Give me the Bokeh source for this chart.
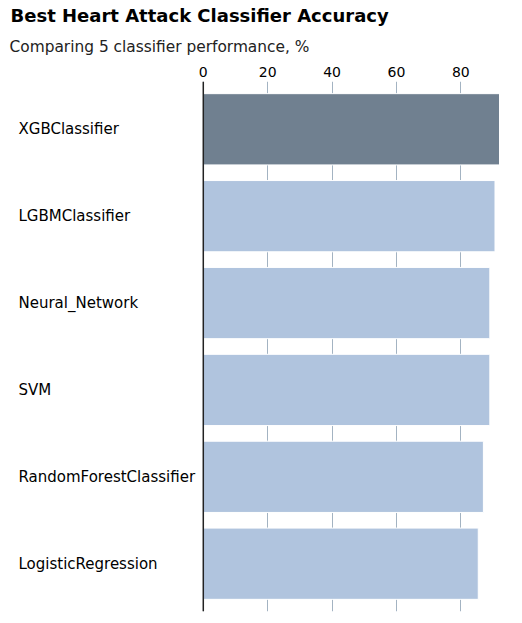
from bokeh.plotting import figure
from bokeh.models import ColumnDataSource, FactorRange, Range1d, Span, Title, FixedTicker
from bokeh.core.properties import value
from bokeh.embed import file_html
from bokeh.resources import INLINE

classifiers = ["XGBClassifier", "LGBMClassifier", "Neural_Network", "SVM",
               "RandomForestClassifier", "LogisticRegression"]
accuracy = [92.0, 90.6, 89.0, 89.0, 87.0, 85.4]
bar_colors = ["#708090", "#B0C4DE", "#B0C4DE", "#B0C4DE", "#B0C4DE", "#B0C4DE"]
tick_values = [0, 20, 40, 60, 80]

FONT = "DejaVu Sans"
LABEL_X = -57.4

src = ColumnDataSource(dict(cls=classifiers, acc=accuracy, color=bar_colors,
                            lx=[LABEL_X] * len(classifiers)))

p = figure(width=499, height=613,
           y_range=FactorRange(*reversed(classifiers), range_padding=0.1 / 6),
           x_range=Range1d(-60.5, max(accuracy)),
           x_axis_location="above", y_axis_location=None,
           output_backend="svg", toolbar_location=None,
           min_border_left=8, min_border_right=0, min_border_bottom=2, min_border_top=0)
p.outline_line_color = None
p.background_fill_color = "white"

p.hbar(y="cls", right="acc", left=0, height=0.82, color="color",
       line_color="white", line_width=1, source=src)

p.text(x="lx", y="cls", text="cls", source=src, text_align="left",
       text_baseline="middle", text_font=value(FONT), text_font_size="15px",
       text_color="black")

p.add_layout(Span(location=0, dimension="height", line_color="#222222", line_width=1.5))

ax = p.xaxis[0]
ax.ticker = FixedTicker(ticks=tick_values)
ax.axis_line_color = None
ax.major_tick_line_color = None
ax.minor_tick_line_color = None
ax.major_tick_out = 0
ax.major_tick_in = 0
ax.major_label_standoff = 5
ax.major_label_text_font = FONT
ax.major_label_text_font_size = "14px"
ax.major_label_text_color = "black"

p.xgrid.ticker = FixedTicker(ticks=tick_values)
p.xgrid.grid_line_color = "#a3b3c2"
p.xgrid.grid_line_width = 1
p.ygrid.grid_line_color = None

p.add_layout(Title(text="Comparing 5 classifier performance, %", text_font=FONT,
                   text_font_size="15.4px", text_font_style="normal",
                   text_color="#222222", offset=1, standoff=16), "above")
p.add_layout(Title(text="Best Heart Attack Classifier Accuracy", text_font=FONT,
                   text_font_size="18px", text_font_style="bold",
                   text_color="black", offset=2, standoff=4), "above")

open("out.html", "w").write(file_html(p, INLINE))
